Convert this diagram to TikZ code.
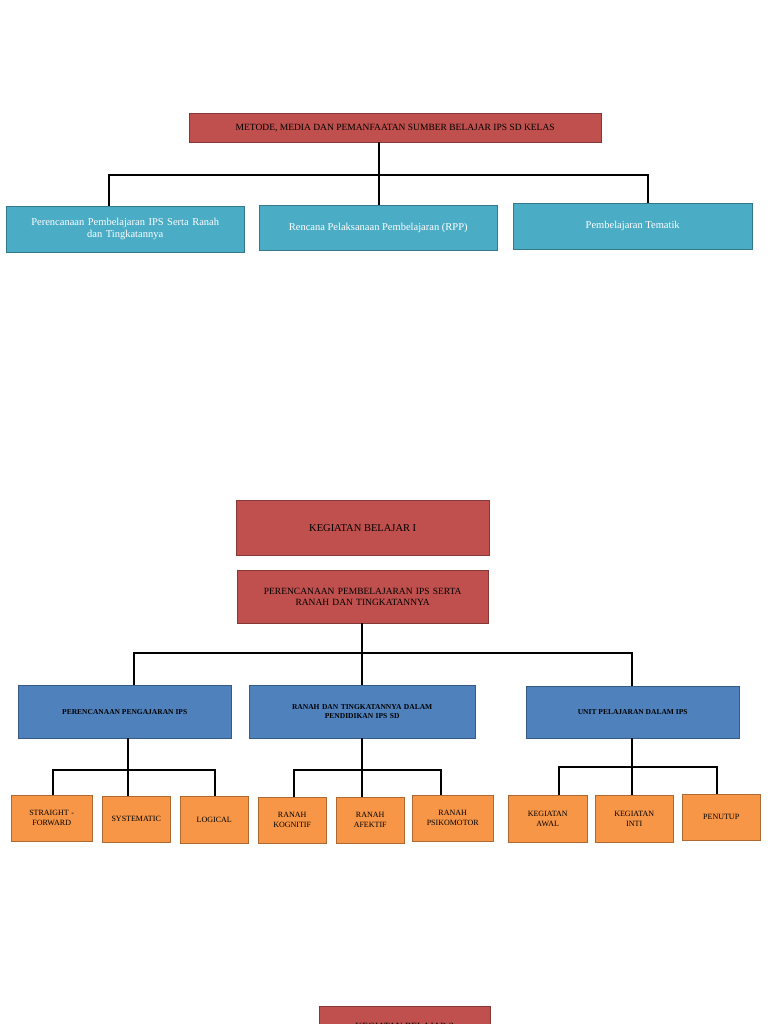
\documentclass[tikz,border=0pt]{standalone}
\usepackage{fontspec}
\setmainfont{Liberation Serif}
\usetikzlibrary{positioning}
\definecolor{redbox}{HTML}{C0504D}
\definecolor{tealbox}{HTML}{4BACC6}
\definecolor{bluebox}{HTML}{4F81BD}
\definecolor{orangebox}{HTML}{F79646}
\begin{document}
\begin{tikzpicture}[
	x=1pt, y=-1pt,
	box/.style={draw=#1!70!black, fill=#1, align=center, inner sep=1pt, anchor=north west},
	head/.style={box=redbox, font=\fontsize{9.5}{11}\selectfont},
	topic/.style={box=tealbox, text=white, font=\fontsize{10.5}{12}\selectfont},
	unit/.style={box=bluebox, font=\fontsize{7.5}{9.5}\selectfont\bfseries},
	leaf/.style={box=orangebox, font=\fontsize{8}{10}\selectfont},
	link/.style={line width=1.6pt}]
\useasboundingbox (0,0) rectangle (768,1024);

% Part 1
\node[head, minimum width=412, minimum height=29] (judul) at (189,113) {METODE, MEDIA DAN PEMANFAATAN SUMBER BELAJAR IPS SD KELAS};
\node[topic, minimum width=238, minimum height=46, text width=230] (topik1) at (6,206) {Perencanaan Pembelajaran IPS Serta Ranah\\dan Tingkatannya};
\node[topic, minimum width=238, minimum height=45] (topik2) at (259,205) {Rencana Pelaksanaan Pembelajaran (RPP)};
\node[topic, minimum width=239, minimum height=46] (topik3) at (513,203) {Pembelajaran Tematik};

% Part 2
\node[head, minimum width=253, minimum height=55, font=\fontsize{10.5}{12}\selectfont] (kb1) at (236,500) {KEGIATAN BELAJAR I};
\node[head, minimum width=251, minimum height=53, text width=240] (rencana) at (237,570) {PERENCANAAN PEMBELAJARAN IPS SERTA\\RANAH DAN TINGKATANNYA};
\node[unit, minimum width=213, minimum height=53] (pengajaran) at (18,685) {PERENCANAAN PENGAJARAN IPS};
\node[unit, minimum width=226, minimum height=53, text width=220] (ranah) at (249,685) {RANAH DAN TINGKATANNYA DALAM\\PENDIDIKAN IPS SD};
\node[unit, minimum width=213, minimum height=52] (unit) at (526,686) {UNIT PELAJARAN DALAM IPS};

\node[leaf, minimum width=81, minimum height=46, text width=76] (straight) at (11,795) {STRAIGHT -\\FORWARD};
\node[leaf, minimum width=68, minimum height=46] (systematic) at (102,796) {SYSTEMATIC};
\node[leaf, minimum width=68, minimum height=47] (logical) at (180,796) {LOGICAL};
\node[leaf, minimum width=68, minimum height=46] (kognitif) at (258,797) {RANAH\\KOGNITIF};
\node[leaf, minimum width=68, minimum height=46] (afektif) at (336,797) {RANAH\\AFEKTIF};
\node[leaf, minimum width=81, minimum height=46] (psikomotor) at (412,795) {RANAH\\PSIKOMOTOR};
\node[leaf, minimum width=79, minimum height=47] (awal) at (508,795) {KEGIATAN\\AWAL};
\node[leaf, minimum width=78, minimum height=47] (inti) at (595,795) {KEGIATAN\\INTI};
\node[leaf, minimum width=78, minimum height=46] (penutup) at (682,794) {PENUTUP};

% Part 3
\node[head, minimum width=171, minimum height=40] (kb2) at (319,1006) {KEGIATAN BELAJAR 2};

% Connections
\foreach \induk/\kiri/\tengah/\kanan/\xl/\xm/\xr/\yc in {
	judul/topik1/topik2/topik3/109/379/648/175,
	rencana/pengajaran/ranah/unit/134/362/632/653,
	pengajaran/straight/systematic/logical/53/128/215/770,
	ranah/kognitif/afektif/psikomotor/294/362/441/770,
	unit/awal/inti/penutup/559/632/717/767}{
	\coordinate (c\induk) at (\xm,\yc);
	\draw[link] (\induk.south -| c\induk) -- (c\induk) -- (\tengah.north -| c\induk);
	\draw[link] (\kiri.north -| \xl,0) |- (c\induk) -| (\kanan.north -| \xr,0);
}
\end{tikzpicture}
\end{document}
